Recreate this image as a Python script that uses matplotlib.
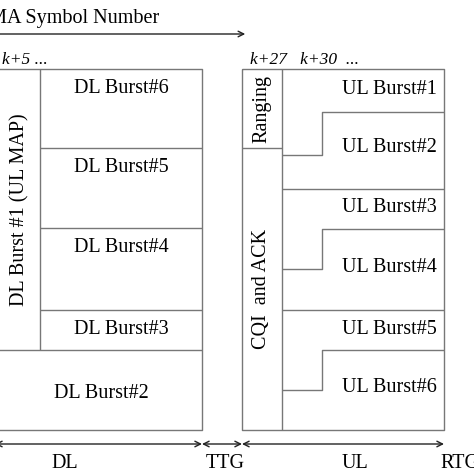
import matplotlib
matplotlib.use("Agg")
import matplotlib.pyplot as plt

dl_labels = ["DL Burst#6", "DL Burst#5", "DL Burst#4", "DL Burst#3"]
dl_edges = [69, 148, 228, 310, 350]
ul_labels = ["UL Burst#1", "UL Burst#2", "UL Burst#3", "UL Burst#4", "UL Burst#5", "UL Burst#6"]
ul_pair_edges = [(69, 112, 155), (189, 229, 269), (310, 350, 390)]
span_labels = ["DL", "TTG", "UL", "RTG"]

plt.rcParams['font.family'] = ['Liberation Serif', 'DejaVu Serif']
fig = plt.figure(figsize=(4.74, 4.74), dpi=100)
ax = fig.add_axes([0, 0, 1, 1])
ax.set_xlim(0, 474); ax.set_ylim(474, 0); ax.axis('off')
lc = '#777777'; lw = 1.0
fs = 14.5

def L(xs, ys, c=lc, w=lw):
    ax.plot(xs, ys, color=c, lw=w, solid_capstyle='butt')

# DL frame
L([-5, 202, 202, -5], [69, 69, 430, 430])
L([40, 40], [69, 350])
for y in dl_edges[1:]:
    L([40 if y < 350 else -5, 202], [y, y])
for i, t in enumerate(dl_labels):
    y0, y1 = dl_edges[i], dl_edges[i + 1]
    yc = y0 + 19 if i < 3 else (y0 + y1) / 2
    ax.text(121, yc, t, ha='center', va='center', fontsize=fs)
ax.text(101, 393, "DL Burst#2", ha='center', va='center', fontsize=fs)
ax.text(20, 210, "DL Burst #1 (UL MAP)", rotation=90, ha='center', va='center', fontsize=fs)

# UL frame
L([242, 444, 444, 242, 242], [69, 69, 430, 430, 69])
L([282, 282], [69, 430])
L([242, 282], [148, 148])
ax.text(262, 109, "Ranging", rotation=90, ha='center', va='center', fontsize=fs)
ax.text(262, 289, "CQI  and ACK", rotation=90, ha='center', va='center', fontsize=fs)
for j, (top, mid, bot) in enumerate(ul_pair_edges):
    if j > 0:
        L([282, 444], [top, top])
    L([444, 322, 322, 282], [mid, mid, bot, bot])
    ax.text(437, (top + mid) / 2 - 1 if j == 0 else top + 19, ul_labels[2 * j], ha='right', va='center', fontsize=fs)
    ax.text(437, mid + 36 if j == 0 else mid + 38, ul_labels[2 * j + 1], ha='right', va='center', fontsize=fs)

# top
ax.text(-51, 18, "OFDMA Symbol Number", ha='left', va='center', fontsize=fs)
ax.annotate("", xy=(248, 34), xytext=(-5, 34),
            arrowprops=dict(arrowstyle='->', color='#222222', lw=1.0))
ax.text(2, 60, "k+5 ...", ha='left', va='center', fontsize=12.5, style='italic')
ax.text(250, 60, "k+27   k+30  ...", ha='left', va='center', fontsize=12.5, style='italic')

# bottom spans
bounds = [-5, 202, 242, 444, 480]
for a, b in zip(bounds[:-1], bounds[1:]):
    ax.annotate("", xy=(b, 444), xytext=(a, 444),
                arrowprops=dict(arrowstyle='<->', color='#222222', lw=1.0, shrinkA=0, shrinkB=0))
label_x = [65, 225, 355, 460]
for x, t in zip(label_x, span_labels):
    ax.text(x, 463, t, ha='center', va='center', fontsize=fs)

fig.savefig("out.png", dpi=100)
